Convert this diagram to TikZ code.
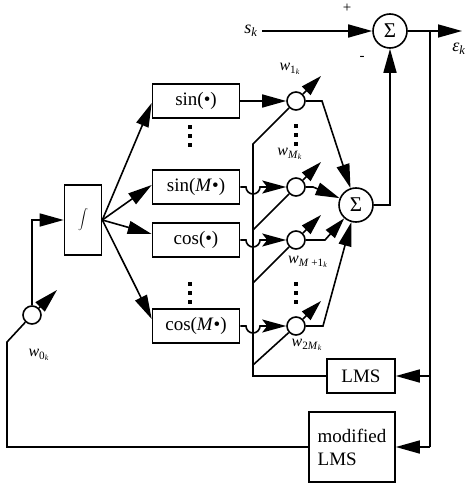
\documentclass[tikz,border=0pt]{standalone}
\usepackage{fontspec}
\setmainfont{Liberation Serif}
\usetikzlibrary{arrows.meta,calc}
\newcommand{\wsub}[2]{\textit{w}\textsubscript{#1\textsubscript{\textit{#2}}}}
\begin{document}
\begin{tikzpicture}[x=1pt,y=-1pt, line width=1.6pt,
  arr/.style={-{Stealth[length=24pt,width=13pt,inset=5pt]}},
  arrT/.style={-{Triangle[length=24pt,width=13pt]}},
  arrS/.style={-{Triangle[length=21pt,width=12pt]}},
  fbox/.style={draw, fill=white, minimum width=87pt, minimum height=34pt, inner sep=0pt, font=\fontsize{19}{21}\selectfont},
  wc/.style={draw, circle, fill=white, minimum size=18pt, inner sep=0pt},
  sc/.style={draw, circle, fill=white, minimum size=34pt, inner sep=0pt, font=\fontsize{21}{22}\selectfont},
  lbl/.style={font=\fontsize{18}{20}\selectfont, inner sep=0pt},
  sgn/.style={font=\fontsize{15}{16}\selectfont, inner sep=0pt},
  dotm/.style={fill=black}]
\useasboundingbox (0,0) rectangle (474,489);

% coordinates
\coordinate (b1) at (253,144);
\coordinate (b2) at (253,230);
\coordinate (b3) at (253,283);
\coordinate (b4) at (253,365);
\coordinate (b0) at (253,376);
\coordinate (j1) at (430,31);
\coordinate (j3) at (430,376);
\coordinate (j2) at (430,447);
\coordinate (out) at (462,31);
\coordinate (c1) at (7,447);
\coordinate (c2) at (7,342);
\coordinate (c3) at (32,220);
\coordinate (h1) at (322,101);
\coordinate (h2) at (313,187);
\coordinate (h3) at (325,240);
\coordinate (h4) at (323,326);
\coordinate (m1) at (390,205);
\coordinate (sks) at (262,31);

% nodes
\node[sc] (s1) at (390,31) {Σ};
\node[sc] (s2) at (356,205) {Σ};
\node[fbox] (f1) at (196,101) {sin(•)};
\node[fbox] (f2) at (196,187) {sin(\textit{M}•)};
\node[fbox] (f3) at (196,240) {cos(•)};
\node[fbox] (f4) at (196,326) {cos(\textit{M}•)};
\node[draw, minimum width=37pt, minimum height=70pt, inner sep=0pt, font=\fontsize{14}{15}\selectfont] (int) at (83,220) {$\displaystyle\int$};
\node[draw, minimum width=68pt, minimum height=34pt, font=\fontsize{19}{21}\selectfont] (lms) at (361,376) {LMS};
\node[draw, minimum width=86pt, minimum height=70pt, align=left, font=\fontsize{19}{23}\selectfont] (mlms) at (352,447) {modified\\LMS};
\node[wc] (w1) at (296,101) {};
\node[wc] (w2) at (296,187) {};
\node[wc] (w3) at (296,240) {};
\node[wc] (w4) at (296,326) {};
\node[wc] (w0) at (32,315) {};
\node[lbl] (sk) at (251,31) {\textit{s}\textsubscript{\textit{k}}};
\node[lbl] (ek) at (459,49) {\textit{ε}\textsubscript{\textit{k}}};
\node[sgn] (plus) at (347,8) {+};
\node[sgn] (minus) at (362,58) {-};
\node[lbl, font=\fontsize{16}{18}\selectfont] (l0) at (39,355) {\wsub{0}{k}};
\node[lbl, font=\fontsize{16}{18}\selectfont] (l1) at (290,69) {\wsub{1}{k}};
\node[lbl, font=\fontsize{16}{18}\selectfont] (l2) at (290,154) {\wsub{\textit{M}}{k}};
\node[lbl, font=\fontsize{16}{18}\selectfont] (l3) at (308,262) {\wsub{\textit{M} +1}{k}};
\node[lbl, font=\fontsize{16}{18}\selectfont] (l4) at (307,345) {\wsub{2\textit{M}}{k}};

% dots
\foreach \x/\y in {190/127,190/136,190/145,190/284,190/293,190/302,296/126,296/135,296/144,296/284,296/293,296/302}
  \fill[dotm] (\x-1.7,\y-2.2) rectangle (\x+1.7,\y+2.2);

% top sum
\draw[arrT] (sks) -- (s1.west);
\draw[arrT] (s1.east) -- (out);
\draw (j1) -- (j2);
\draw[arrT] (j3) -- (lms.east);
\draw[arrT] (j2) -- (mlms.east);

% left loop
\draw (mlms.west) -- (c1) -- (c2) -- (w0);
\draw[arrT] (w0) -- ++(25,-25);
\draw[arrT] (w0.north) -- (c3) -- (int.west);

% integrator outputs
\draw[arrT] (int.east) -- ($(f1.west)+(0,2)$);
\draw[arrT] (int.east) -- ($(f2.west)+(0,-2)$);
\draw[arrT] (int.east) -- ($(f3.west)+(0,-6)$);
\draw[arrT] (int.east) -- ($(f4.west)+(0,-7)$);

% bus
\draw (lms.west) -- (b0) -- (b1) -- (w1);
\draw (b2) -- (w2);
\draw (b3) -- (w3);
\draw (b4) -- (w4);
\draw[arrS] (w1) -- ++(25,-25);
\draw[arrS] (w2) -- ++(25,-25);
\draw[arrS] (w3) -- ++(25,-25);
\draw[arrS] (w4) -- ++(25,-25);

% box to weights
\draw[arrT] (f1.east) -- (w1.west);
\draw[arr] (f2.east) -- (246,187) arc[start angle=180,end angle=0,radius=7] -- (w2.west);
\draw[arr] (f3.east) -- (246,240) arc[start angle=180,end angle=0,radius=7] -- (w3.west);
\draw[arr] (f4.east) -- (246,326) arc[start angle=180,end angle=0,radius=7] -- (w4.west);

% weights to sum
\draw[arrT] (w1.east) -- (h1) -- (s2);
\draw[arrT] (w2.east) -- (h2) -- (s2);
\draw[arrS] (w3.east) -- (h3) -- (s2);
\draw[arrT] (w4.east) -- (h4) -- (s2);
\draw[arrT] (s2.east) -- (m1) -- (s1.south);
\end{tikzpicture}
\end{document}
